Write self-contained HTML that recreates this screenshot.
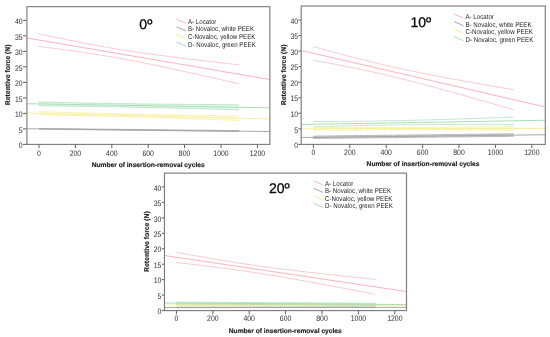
<!DOCTYPE html>
<html><head><meta charset="utf-8"><title>Retentive force charts</title>
<style>
html,body{margin:0;padding:0;background:#fff;overflow:hidden;}
svg{display:block;font-family:"Liberation Sans",Arial,sans-serif;text-rendering:geometricPrecision;}
</style></head><body>
<svg width="550" height="337" viewBox="0 0 550 337">
<defs><filter id="soft" x="0" y="0" width="100%" height="100%" filterUnits="userSpaceOnUse"><feGaussianBlur stdDeviation="0.35"/></filter></defs>
<rect width="550" height="337" fill="#fff"/>
<g filter="url(#soft)">
<line x1="26.90" y1="38.00" x2="269.85" y2="79.60" stroke="#fbb4bd" stroke-width="1.05" />
<polyline points="39.00,33.71 44.01,34.79 49.01,35.87 54.02,36.94 59.02,38.00 64.03,39.04 69.03,40.07 74.03,41.09 79.04,42.09 84.05,43.07 89.05,44.04 94.05,44.98 99.06,45.90 104.06,46.80 109.07,47.67 114.08,48.52 119.08,49.34 124.08,50.15 129.09,50.93 134.09,51.69 139.10,52.42 144.10,53.15 149.11,53.85 154.11,54.54 159.12,55.21 164.12,55.87 169.13,56.52 174.13,57.16 179.14,57.79 184.14,58.41 189.15,59.02 194.16,59.63 199.16,60.23 204.16,60.83 209.17,61.42 214.18,62.01 219.18,62.59 224.19,63.17 229.19,63.75 234.19,64.32 239.20,64.89" fill="none" stroke="#fbb4bd" stroke-width="0.95" stroke-dasharray="1.4 0.45"/>
<polyline points="39.00,46.44 44.01,47.06 49.01,47.70 54.02,48.35 59.02,49.00 64.03,49.67 69.03,50.35 74.03,51.05 79.04,51.76 84.05,52.50 89.05,53.25 94.05,54.02 99.06,54.81 104.06,55.63 109.07,56.47 114.08,57.33 119.08,58.22 124.08,59.13 129.09,60.07 134.09,61.02 139.10,62.00 144.10,62.99 149.11,64.00 154.11,65.03 159.12,66.07 164.12,67.12 169.13,68.19 174.13,69.26 179.14,70.35 184.14,71.44 189.15,72.54 194.16,73.65 199.16,74.76 204.16,75.88 209.17,77.00 214.18,78.12 219.18,79.26 224.19,80.39 229.19,81.53 234.19,82.67 239.20,83.81" fill="none" stroke="#fbb4bd" stroke-width="0.95" stroke-dasharray="1.4 0.45"/>
<polygon points="39.00,101.94 44.01,102.07 49.01,102.20 54.02,102.32 59.02,102.45 64.03,102.57 69.03,102.68 74.03,102.80 79.04,102.90 84.05,103.01 89.05,103.11 94.05,103.21 99.06,103.31 104.06,103.40 109.07,103.49 114.08,103.57 119.08,103.65 124.08,103.72 129.09,103.80 134.09,103.86 139.10,103.93 144.10,103.99 149.11,104.04 154.11,104.10 159.12,104.15 164.12,104.20 169.13,104.24 174.13,104.28 179.14,104.32 184.14,104.36 189.15,104.40 194.16,104.43 199.16,104.46 204.16,104.49 209.17,104.52 214.18,104.55 219.18,104.58 224.19,104.60 229.19,104.62 234.19,104.65 239.20,104.67 239.20,109.90 234.19,109.75 229.19,109.60 224.19,109.46 219.18,109.31 214.18,109.17 209.17,109.03 204.16,108.89 199.16,108.75 194.16,108.61 189.15,108.48 184.14,108.35 179.14,108.21 174.13,108.09 169.13,107.96 164.12,107.84 159.12,107.71 154.11,107.60 149.11,107.48 144.10,107.37 139.10,107.26 134.09,107.15 129.09,107.05 124.08,106.96 119.08,106.86 114.08,106.77 109.07,106.69 104.06,106.61 99.06,106.53 94.05,106.45 89.05,106.38 84.05,106.32 79.04,106.25 74.03,106.20 69.03,106.14 64.03,106.09 59.02,106.04 54.02,105.99 49.01,105.95 44.01,105.91 39.00,105.87" fill="#a9deb7" fill-opacity="0.28" stroke="none"/>
<line x1="26.90" y1="103.70" x2="269.85" y2="107.80" stroke="#a9deb7" stroke-width="1.05" />
<polyline points="39.00,101.94 44.01,102.07 49.01,102.20 54.02,102.32 59.02,102.45 64.03,102.57 69.03,102.68 74.03,102.80 79.04,102.90 84.05,103.01 89.05,103.11 94.05,103.21 99.06,103.31 104.06,103.40 109.07,103.49 114.08,103.57 119.08,103.65 124.08,103.72 129.09,103.80 134.09,103.86 139.10,103.93 144.10,103.99 149.11,104.04 154.11,104.10 159.12,104.15 164.12,104.20 169.13,104.24 174.13,104.28 179.14,104.32 184.14,104.36 189.15,104.40 194.16,104.43 199.16,104.46 204.16,104.49 209.17,104.52 214.18,104.55 219.18,104.58 224.19,104.60 229.19,104.62 234.19,104.65 239.20,104.67" fill="none" stroke="#a9deb7" stroke-width="0.95" stroke-dasharray="1.4 0.45"/>
<polyline points="39.00,105.87 44.01,105.91 49.01,105.95 54.02,105.99 59.02,106.04 64.03,106.09 69.03,106.14 74.03,106.20 79.04,106.25 84.05,106.32 89.05,106.38 94.05,106.45 99.06,106.53 104.06,106.61 109.07,106.69 114.08,106.77 119.08,106.86 124.08,106.96 129.09,107.05 134.09,107.15 139.10,107.26 144.10,107.37 149.11,107.48 154.11,107.60 159.12,107.71 164.12,107.84 169.13,107.96 174.13,108.09 179.14,108.21 184.14,108.35 189.15,108.48 194.16,108.61 199.16,108.75 204.16,108.89 209.17,109.03 214.18,109.17 219.18,109.31 224.19,109.46 229.19,109.60 234.19,109.75 239.20,109.90" fill="none" stroke="#a9deb7" stroke-width="0.95" stroke-dasharray="1.4 0.45"/>
<polygon points="39.00,111.49 44.01,111.65 49.01,111.82 54.02,111.98 59.02,112.14 64.03,112.29 69.03,112.44 74.03,112.60 79.04,112.74 84.05,112.89 89.05,113.03 94.05,113.17 99.06,113.30 104.06,113.43 109.07,113.56 114.08,113.69 119.08,113.81 124.08,113.93 129.09,114.04 134.09,114.15 139.10,114.26 144.10,114.36 149.11,114.47 154.11,114.56 159.12,114.66 164.12,114.75 169.13,114.84 174.13,114.93 179.14,115.02 184.14,115.11 189.15,115.19 194.16,115.27 199.16,115.35 204.16,115.43 209.17,115.50 214.18,115.58 219.18,115.66 224.19,115.73 229.19,115.80 234.19,115.87 239.20,115.94 239.20,120.52 234.19,120.34 229.19,120.16 224.19,119.98 219.18,119.80 214.18,119.62 209.17,119.45 204.16,119.27 199.16,119.10 194.16,118.93 189.15,118.76 184.14,118.59 179.14,118.42 174.13,118.26 169.13,118.10 164.12,117.94 159.12,117.78 154.11,117.62 149.11,117.47 144.10,117.32 139.10,117.18 134.09,117.03 129.09,116.89 124.08,116.75 119.08,116.62 114.08,116.49 109.07,116.36 104.06,116.24 99.06,116.12 94.05,116.00 89.05,115.89 84.05,115.78 79.04,115.67 74.03,115.57 69.03,115.47 64.03,115.37 59.02,115.28 54.02,115.19 49.01,115.09 44.01,115.01 39.00,114.92" fill="#f8ef9e" fill-opacity="0.3" stroke="none"/>
<line x1="26.90" y1="112.90" x2="269.85" y2="119.00" stroke="#f8ef9e" stroke-width="1.05" />
<polyline points="39.00,111.49 44.01,111.65 49.01,111.82 54.02,111.98 59.02,112.14 64.03,112.29 69.03,112.44 74.03,112.60 79.04,112.74 84.05,112.89 89.05,113.03 94.05,113.17 99.06,113.30 104.06,113.43 109.07,113.56 114.08,113.69 119.08,113.81 124.08,113.93 129.09,114.04 134.09,114.15 139.10,114.26 144.10,114.36 149.11,114.47 154.11,114.56 159.12,114.66 164.12,114.75 169.13,114.84 174.13,114.93 179.14,115.02 184.14,115.11 189.15,115.19 194.16,115.27 199.16,115.35 204.16,115.43 209.17,115.50 214.18,115.58 219.18,115.66 224.19,115.73 229.19,115.80 234.19,115.87 239.20,115.94" fill="none" stroke="#f8ef9e" stroke-width="0.95" stroke-dasharray="1.4 0.45"/>
<polyline points="39.00,114.92 44.01,115.01 49.01,115.09 54.02,115.19 59.02,115.28 64.03,115.37 69.03,115.47 74.03,115.57 79.04,115.67 84.05,115.78 89.05,115.89 94.05,116.00 99.06,116.12 104.06,116.24 109.07,116.36 114.08,116.49 119.08,116.62 124.08,116.75 129.09,116.89 134.09,117.03 139.10,117.18 144.10,117.32 149.11,117.47 154.11,117.62 159.12,117.78 164.12,117.94 169.13,118.10 174.13,118.26 179.14,118.42 184.14,118.59 189.15,118.76 194.16,118.93 199.16,119.10 204.16,119.27 209.17,119.45 214.18,119.62 219.18,119.80 224.19,119.98 229.19,120.16 234.19,120.34 239.20,120.52" fill="none" stroke="#f8ef9e" stroke-width="0.95" stroke-dasharray="1.4 0.45"/>
<polygon points="39.00,128.41 44.01,128.47 49.01,128.53 54.02,128.59 59.02,128.64 64.03,128.70 69.03,128.76 74.03,128.82 79.04,128.87 84.05,128.93 89.05,128.99 94.05,129.05 99.06,129.10 104.06,129.16 109.07,129.21 114.08,129.27 119.08,129.32 124.08,129.38 129.09,129.43 134.09,129.49 139.10,129.54 144.10,129.60 149.11,129.65 154.11,129.70 159.12,129.76 164.12,129.81 169.13,129.86 174.13,129.92 179.14,129.97 184.14,130.02 189.15,130.07 194.16,130.12 199.16,130.18 204.16,130.23 209.17,130.28 214.18,130.33 219.18,130.38 224.19,130.43 229.19,130.48 234.19,130.53 239.20,130.58 239.20,131.54 234.19,131.47 229.19,131.41 224.19,131.35 219.18,131.29 214.18,131.23 209.17,131.17 204.16,131.11 199.16,131.05 194.16,130.99 189.15,130.93 184.14,130.87 179.14,130.82 174.13,130.76 169.13,130.70 164.12,130.64 159.12,130.58 154.11,130.52 149.11,130.47 144.10,130.41 139.10,130.35 134.09,130.29 129.09,130.24 124.08,130.18 119.08,130.12 114.08,130.07 109.07,130.01 104.06,129.96 99.06,129.90 94.05,129.85 89.05,129.79 84.05,129.74 79.04,129.68 74.03,129.63 69.03,129.58 64.03,129.52 59.02,129.47 54.02,129.42 49.01,129.36 44.01,129.31 39.00,129.26" fill="#a6a6a6" fill-opacity="0.6" stroke="none"/>
<line x1="26.90" y1="128.70" x2="269.85" y2="131.40" stroke="#a6a6a6" stroke-width="1.05" />
<polyline points="39.00,128.41 44.01,128.47 49.01,128.53 54.02,128.59 59.02,128.64 64.03,128.70 69.03,128.76 74.03,128.82 79.04,128.87 84.05,128.93 89.05,128.99 94.05,129.05 99.06,129.10 104.06,129.16 109.07,129.21 114.08,129.27 119.08,129.32 124.08,129.38 129.09,129.43 134.09,129.49 139.10,129.54 144.10,129.60 149.11,129.65 154.11,129.70 159.12,129.76 164.12,129.81 169.13,129.86 174.13,129.92 179.14,129.97 184.14,130.02 189.15,130.07 194.16,130.12 199.16,130.18 204.16,130.23 209.17,130.28 214.18,130.33 219.18,130.38 224.19,130.43 229.19,130.48 234.19,130.53 239.20,130.58" fill="none" stroke="#a6a6a6" stroke-width="0.95" stroke-dasharray="1.4 0.45"/>
<polyline points="39.00,129.26 44.01,129.31 49.01,129.36 54.02,129.42 59.02,129.47 64.03,129.52 69.03,129.58 74.03,129.63 79.04,129.68 84.05,129.74 89.05,129.79 94.05,129.85 99.06,129.90 104.06,129.96 109.07,130.01 114.08,130.07 119.08,130.12 124.08,130.18 129.09,130.24 134.09,130.29 139.10,130.35 144.10,130.41 149.11,130.47 154.11,130.52 159.12,130.58 164.12,130.64 169.13,130.70 174.13,130.76 179.14,130.82 184.14,130.87 189.15,130.93 194.16,130.99 199.16,131.05 204.16,131.11 209.17,131.17 214.18,131.23 219.18,131.29 224.19,131.35 229.19,131.41 234.19,131.47 239.20,131.54" fill="none" stroke="#a6a6a6" stroke-width="0.95" stroke-dasharray="1.4 0.45"/>
<rect x="26.90" y="6.65" width="242.95" height="137.75" fill="none" stroke="#7c7c7c" stroke-width="1.15"/>
<line x1="23.00" y1="144.40" x2="26.50" y2="144.40" stroke="#4a4a4a" stroke-width="0.9" />
<text transform="translate(22.70,148.10) scale(0.86,1)" font-size="8.0" text-anchor="end" font-weight="normal" fill="#2e2e2e" >0</text>
<line x1="23.00" y1="128.90" x2="26.50" y2="128.90" stroke="#4a4a4a" stroke-width="0.9" />
<text transform="translate(22.70,132.60) scale(0.86,1)" font-size="8.0" text-anchor="end" font-weight="normal" fill="#2e2e2e" >5</text>
<line x1="23.00" y1="113.40" x2="26.50" y2="113.40" stroke="#4a4a4a" stroke-width="0.9" />
<text transform="translate(22.70,117.10) scale(0.86,1)" font-size="8.0" text-anchor="end" font-weight="normal" fill="#2e2e2e" >10</text>
<line x1="23.00" y1="97.90" x2="26.50" y2="97.90" stroke="#4a4a4a" stroke-width="0.9" />
<text transform="translate(22.70,101.60) scale(0.86,1)" font-size="8.0" text-anchor="end" font-weight="normal" fill="#2e2e2e" >15</text>
<line x1="23.00" y1="82.40" x2="26.50" y2="82.40" stroke="#4a4a4a" stroke-width="0.9" />
<text transform="translate(22.70,86.10) scale(0.86,1)" font-size="8.0" text-anchor="end" font-weight="normal" fill="#2e2e2e" >20</text>
<line x1="23.00" y1="66.90" x2="26.50" y2="66.90" stroke="#4a4a4a" stroke-width="0.9" />
<text transform="translate(22.70,70.60) scale(0.86,1)" font-size="8.0" text-anchor="end" font-weight="normal" fill="#2e2e2e" >25</text>
<line x1="23.00" y1="51.40" x2="26.50" y2="51.40" stroke="#4a4a4a" stroke-width="0.9" />
<text transform="translate(22.70,55.10) scale(0.86,1)" font-size="8.0" text-anchor="end" font-weight="normal" fill="#2e2e2e" >30</text>
<line x1="23.00" y1="35.90" x2="26.50" y2="35.90" stroke="#4a4a4a" stroke-width="0.9" />
<text transform="translate(22.70,39.60) scale(0.86,1)" font-size="8.0" text-anchor="end" font-weight="normal" fill="#2e2e2e" >35</text>
<line x1="23.00" y1="20.40" x2="26.50" y2="20.40" stroke="#4a4a4a" stroke-width="0.9" />
<text transform="translate(22.70,24.10) scale(0.86,1)" font-size="8.0" text-anchor="end" font-weight="normal" fill="#2e2e2e" >40</text>
<line x1="39.00" y1="144.80" x2="39.00" y2="148.10" stroke="#4a4a4a" stroke-width="0.9" />
<text transform="translate(39.00,155.90) scale(0.86,1)" font-size="8.0" text-anchor="middle" font-weight="normal" fill="#2e2e2e" >0</text>
<line x1="75.40" y1="144.80" x2="75.40" y2="148.10" stroke="#4a4a4a" stroke-width="0.9" />
<text transform="translate(75.40,155.90) scale(0.86,1)" font-size="8.0" text-anchor="middle" font-weight="normal" fill="#2e2e2e" >200</text>
<line x1="111.80" y1="144.80" x2="111.80" y2="148.10" stroke="#4a4a4a" stroke-width="0.9" />
<text transform="translate(111.80,155.90) scale(0.86,1)" font-size="8.0" text-anchor="middle" font-weight="normal" fill="#2e2e2e" >400</text>
<line x1="148.20" y1="144.80" x2="148.20" y2="148.10" stroke="#4a4a4a" stroke-width="0.9" />
<text transform="translate(148.20,155.90) scale(0.86,1)" font-size="8.0" text-anchor="middle" font-weight="normal" fill="#2e2e2e" >600</text>
<line x1="184.60" y1="144.80" x2="184.60" y2="148.10" stroke="#4a4a4a" stroke-width="0.9" />
<text transform="translate(184.60,155.90) scale(0.86,1)" font-size="8.0" text-anchor="middle" font-weight="normal" fill="#2e2e2e" >800</text>
<line x1="221.00" y1="144.80" x2="221.00" y2="148.10" stroke="#4a4a4a" stroke-width="0.9" />
<text transform="translate(221.00,155.90) scale(0.86,1)" font-size="8.0" text-anchor="middle" font-weight="normal" fill="#2e2e2e" >1000</text>
<line x1="257.40" y1="144.80" x2="257.40" y2="148.10" stroke="#4a4a4a" stroke-width="0.9" />
<text transform="translate(257.40,155.90) scale(0.86,1)" font-size="8.0" text-anchor="middle" font-weight="normal" fill="#2e2e2e" >1200</text>
<text transform="translate(148.18,167.40)" font-size="6.65" text-anchor="middle" font-weight="bold" fill="#1c1c1c" stroke="#1c1c1c" stroke-width="0.15">Number of insertion-removal cycles</text>
<text transform="translate(9.90,74.83) rotate(-90) scale(0.975,1)" font-size="7.0" text-anchor="middle" font-weight="bold" fill="#1c1c1c" stroke="#1c1c1c" stroke-width="0.15">Retentive force (N)</text>
<text transform="translate(139.35,29.10)" font-size="14.0" text-anchor="start" font-weight="normal" fill="#000" stroke="#000" stroke-width="0.25">0º</text>
<line x1="176.40" y1="19.10" x2="186.00" y2="23.30" stroke="#fbb4bd" stroke-width="1.0" />
<text transform="translate(188.00,23.80) scale(0.88,1)" font-size="7.0" text-anchor="start" font-weight="normal" fill="#1e1e1e" >A- Locator</text>
<line x1="176.40" y1="26.73" x2="186.00" y2="30.93" stroke="#a6a6a6" stroke-width="1.0" />
<text transform="translate(188.00,31.43) scale(0.88,1)" font-size="7.0" text-anchor="start" font-weight="normal" fill="#1e1e1e" >B- Novaloc, white PEEK</text>
<line x1="176.40" y1="34.36" x2="186.00" y2="38.56" stroke="#f8ef9e" stroke-width="1.0" />
<text transform="translate(188.00,39.06) scale(0.88,1)" font-size="7.0" text-anchor="start" font-weight="normal" fill="#1e1e1e" >C-Novaloc, yellow PEEK</text>
<line x1="176.40" y1="41.99" x2="186.00" y2="46.19" stroke="#a9deb7" stroke-width="1.0" />
<text transform="translate(188.00,46.69) scale(0.88,1)" font-size="7.0" text-anchor="start" font-weight="normal" fill="#1e1e1e" >D- Novaloc, green PEEK</text>
<line x1="301.20" y1="50.60" x2="545.30" y2="107.10" stroke="#fbb4bd" stroke-width="1.05" />
<polyline points="313.40,46.62 318.41,48.01 323.42,49.40 328.44,50.78 333.45,52.14 338.46,53.50 343.47,54.84 348.49,56.16 353.50,57.47 358.51,58.75 363.52,60.02 368.54,61.27 373.55,62.49 378.56,63.69 383.57,64.87 388.59,66.02 393.60,67.15 398.61,68.25 403.62,69.33 408.64,70.39 413.65,71.43 418.66,72.45 423.67,73.46 428.69,74.44 433.70,75.41 438.71,76.37 443.72,77.32 448.74,78.25 453.75,79.18 458.76,80.10 463.77,81.01 468.79,81.91 473.80,82.80 478.81,83.69 483.82,84.58 488.84,85.46 493.85,86.34 498.86,87.21 503.88,88.08 508.89,88.94 513.90,89.80" fill="none" stroke="#fbb4bd" stroke-width="0.95" stroke-dasharray="1.4 0.45"/>
<polyline points="313.40,60.23 318.41,61.15 323.42,62.09 328.44,63.03 333.45,63.98 338.46,64.95 343.47,65.93 348.49,66.93 353.50,67.95 358.51,68.98 363.52,70.03 368.54,71.11 373.55,72.20 378.56,73.32 383.57,74.47 388.59,75.64 393.60,76.83 398.61,78.04 403.62,79.28 408.64,80.54 413.65,81.82 418.66,83.12 423.67,84.44 428.69,85.78 433.70,87.12 438.71,88.49 443.72,89.86 448.74,91.24 453.75,92.64 458.76,94.04 463.77,95.45 468.79,96.87 473.80,98.30 478.81,99.73 483.82,101.16 488.84,102.60 493.85,104.05 498.86,105.50 503.88,106.95 508.89,108.40 513.90,109.86" fill="none" stroke="#fbb4bd" stroke-width="0.95" stroke-dasharray="1.4 0.45"/>
<line x1="301.20" y1="124.40" x2="545.30" y2="120.20" stroke="#a9deb7" stroke-width="1.05" />
<polyline points="313.40,121.54 318.41,121.52 323.42,121.50 328.44,121.48 333.45,121.45 338.46,121.41 343.47,121.38 348.49,121.33 353.50,121.29 358.51,121.23 363.52,121.17 368.54,121.11 373.55,121.04 378.56,120.96 383.57,120.88 388.59,120.79 393.60,120.70 398.61,120.60 403.62,120.49 408.64,120.38 413.65,120.26 418.66,120.14 423.67,120.01 428.69,119.88 433.70,119.74 438.71,119.60 443.72,119.45 448.74,119.30 453.75,119.15 458.76,118.99 463.77,118.84 468.79,118.67 473.80,118.51 478.81,118.34 483.82,118.17 488.84,118.00 493.85,117.83 498.86,117.66 503.88,117.48 508.89,117.31 513.90,117.13" fill="none" stroke="#a9deb7" stroke-width="0.95" stroke-dasharray="1.4 0.45"/>
<polyline points="313.40,126.84 318.41,126.68 323.42,126.53 328.44,126.39 333.45,126.24 338.46,126.10 343.47,125.97 348.49,125.84 353.50,125.71 358.51,125.59 363.52,125.48 368.54,125.37 373.55,125.27 378.56,125.17 383.57,125.08 388.59,125.00 393.60,124.92 398.61,124.85 403.62,124.78 408.64,124.72 413.65,124.67 418.66,124.62 423.67,124.57 428.69,124.53 433.70,124.50 438.71,124.47 443.72,124.44 448.74,124.42 453.75,124.40 458.76,124.38 463.77,124.37 468.79,124.36 473.80,124.35 478.81,124.34 483.82,124.34 488.84,124.34 493.85,124.34 498.86,124.34 503.88,124.34 508.89,124.35 513.90,124.35" fill="none" stroke="#a9deb7" stroke-width="0.95" stroke-dasharray="1.4 0.45"/>
<polygon points="313.40,127.26 318.41,127.29 323.42,127.31 328.44,127.34 333.45,127.36 338.46,127.38 343.47,127.39 348.49,127.41 353.50,127.42 358.51,127.43 363.52,127.43 368.54,127.44 373.55,127.44 378.56,127.44 383.57,127.43 388.59,127.42 393.60,127.41 398.61,127.40 403.62,127.38 408.64,127.36 413.65,127.34 418.66,127.31 423.67,127.29 428.69,127.25 433.70,127.22 438.71,127.19 443.72,127.15 448.74,127.11 453.75,127.07 458.76,127.03 463.77,126.98 468.79,126.94 473.80,126.89 478.81,126.85 483.82,126.80 488.84,126.75 493.85,126.69 498.86,126.64 503.88,126.59 508.89,126.54 513.90,126.48 513.90,130.41 508.89,130.37 503.88,130.33 498.86,130.29 493.85,130.25 488.84,130.22 483.82,130.18 478.81,130.15 473.80,130.11 468.79,130.08 463.77,130.05 458.76,130.02 453.75,129.99 448.74,129.97 443.72,129.94 438.71,129.92 433.70,129.90 428.69,129.88 423.67,129.86 418.66,129.85 413.65,129.84 408.64,129.83 403.62,129.83 398.61,129.82 393.60,129.82 388.59,129.83 383.57,129.83 378.56,129.84 373.55,129.85 368.54,129.87 363.52,129.89 358.51,129.91 353.50,129.93 348.49,129.96 343.47,129.99 338.46,130.02 333.45,130.05 328.44,130.09 323.42,130.12 318.41,130.16 313.40,130.20" fill="#f8ef9e" fill-opacity="0.3" stroke="none"/>
<line x1="301.20" y1="128.75" x2="545.30" y2="128.40" stroke="#f8ef9e" stroke-width="1.05" />
<polyline points="313.40,127.26 318.41,127.29 323.42,127.31 328.44,127.34 333.45,127.36 338.46,127.38 343.47,127.39 348.49,127.41 353.50,127.42 358.51,127.43 363.52,127.43 368.54,127.44 373.55,127.44 378.56,127.44 383.57,127.43 388.59,127.42 393.60,127.41 398.61,127.40 403.62,127.38 408.64,127.36 413.65,127.34 418.66,127.31 423.67,127.29 428.69,127.25 433.70,127.22 438.71,127.19 443.72,127.15 448.74,127.11 453.75,127.07 458.76,127.03 463.77,126.98 468.79,126.94 473.80,126.89 478.81,126.85 483.82,126.80 488.84,126.75 493.85,126.69 498.86,126.64 503.88,126.59 508.89,126.54 513.90,126.48" fill="none" stroke="#f8ef9e" stroke-width="0.95" stroke-dasharray="1.4 0.45"/>
<polyline points="313.40,130.20 318.41,130.16 323.42,130.12 328.44,130.09 333.45,130.05 338.46,130.02 343.47,129.99 348.49,129.96 353.50,129.93 358.51,129.91 363.52,129.89 368.54,129.87 373.55,129.85 378.56,129.84 383.57,129.83 388.59,129.83 393.60,129.82 398.61,129.82 403.62,129.83 408.64,129.83 413.65,129.84 418.66,129.85 423.67,129.86 428.69,129.88 433.70,129.90 438.71,129.92 443.72,129.94 448.74,129.97 453.75,129.99 458.76,130.02 463.77,130.05 468.79,130.08 473.80,130.11 478.81,130.15 483.82,130.18 488.84,130.22 493.85,130.25 498.86,130.29 503.88,130.33 508.89,130.37 513.90,130.41" fill="none" stroke="#f8ef9e" stroke-width="0.95" stroke-dasharray="1.4 0.45"/>
<polygon points="313.40,136.05 318.41,135.99 323.42,135.94 328.44,135.89 333.45,135.83 338.46,135.78 343.47,135.73 348.49,135.67 353.50,135.62 358.51,135.56 363.52,135.51 368.54,135.45 373.55,135.40 378.56,135.34 383.57,135.29 388.59,135.23 393.60,135.18 398.61,135.12 403.62,135.07 408.64,135.01 413.65,134.95 418.66,134.90 423.67,134.84 428.69,134.78 433.70,134.73 438.71,134.67 443.72,134.61 448.74,134.55 453.75,134.49 458.76,134.44 463.77,134.38 468.79,134.32 473.80,134.26 478.81,134.20 483.82,134.14 488.84,134.08 493.85,134.02 498.86,133.97 503.88,133.91 508.89,133.85 513.90,133.79 513.90,136.31 508.89,136.36 503.88,136.41 498.86,136.46 493.85,136.51 488.84,136.56 483.82,136.62 478.81,136.67 473.80,136.72 468.79,136.77 463.77,136.83 458.76,136.88 453.75,136.93 448.74,136.98 443.72,137.04 438.71,137.09 433.70,137.14 428.69,137.20 423.67,137.25 418.66,137.31 413.65,137.36 408.64,137.41 403.62,137.47 398.61,137.52 393.60,137.58 388.59,137.63 383.57,137.69 378.56,137.74 373.55,137.80 368.54,137.86 363.52,137.91 358.51,137.97 353.50,138.03 348.49,138.08 343.47,138.14 338.46,138.20 333.45,138.25 328.44,138.31 323.42,138.37 318.41,138.43 313.40,138.48" fill="#a6a6a6" fill-opacity="0.5" stroke="none"/>
<line x1="301.20" y1="137.40" x2="545.30" y2="134.70" stroke="#a6a6a6" stroke-width="1.05" />
<polyline points="313.40,136.05 318.41,135.99 323.42,135.94 328.44,135.89 333.45,135.83 338.46,135.78 343.47,135.73 348.49,135.67 353.50,135.62 358.51,135.56 363.52,135.51 368.54,135.45 373.55,135.40 378.56,135.34 383.57,135.29 388.59,135.23 393.60,135.18 398.61,135.12 403.62,135.07 408.64,135.01 413.65,134.95 418.66,134.90 423.67,134.84 428.69,134.78 433.70,134.73 438.71,134.67 443.72,134.61 448.74,134.55 453.75,134.49 458.76,134.44 463.77,134.38 468.79,134.32 473.80,134.26 478.81,134.20 483.82,134.14 488.84,134.08 493.85,134.02 498.86,133.97 503.88,133.91 508.89,133.85 513.90,133.79" fill="none" stroke="#a6a6a6" stroke-width="0.95" stroke-dasharray="1.4 0.45"/>
<polyline points="313.40,138.48 318.41,138.43 323.42,138.37 328.44,138.31 333.45,138.25 338.46,138.20 343.47,138.14 348.49,138.08 353.50,138.03 358.51,137.97 363.52,137.91 368.54,137.86 373.55,137.80 378.56,137.74 383.57,137.69 388.59,137.63 393.60,137.58 398.61,137.52 403.62,137.47 408.64,137.41 413.65,137.36 418.66,137.31 423.67,137.25 428.69,137.20 433.70,137.14 438.71,137.09 443.72,137.04 448.74,136.98 453.75,136.93 458.76,136.88 463.77,136.83 468.79,136.77 473.80,136.72 478.81,136.67 483.82,136.62 488.84,136.56 493.85,136.51 498.86,136.46 503.88,136.41 508.89,136.36 513.90,136.31" fill="none" stroke="#a6a6a6" stroke-width="0.95" stroke-dasharray="1.4 0.45"/>
<rect x="301.20" y="6.00" width="244.10" height="138.40" fill="none" stroke="#7c7c7c" stroke-width="1.15"/>
<line x1="298.40" y1="144.40" x2="300.80" y2="144.40" stroke="#4a4a4a" stroke-width="0.9" />
<text transform="translate(298.10,148.10) scale(0.86,1)" font-size="8.0" text-anchor="end" font-weight="normal" fill="#2e2e2e" >0</text>
<line x1="298.40" y1="128.85" x2="300.80" y2="128.85" stroke="#4a4a4a" stroke-width="0.9" />
<text transform="translate(298.10,132.55) scale(0.86,1)" font-size="8.0" text-anchor="end" font-weight="normal" fill="#2e2e2e" >5</text>
<line x1="298.40" y1="113.30" x2="300.80" y2="113.30" stroke="#4a4a4a" stroke-width="0.9" />
<text transform="translate(298.10,117.00) scale(0.86,1)" font-size="8.0" text-anchor="end" font-weight="normal" fill="#2e2e2e" >10</text>
<line x1="298.40" y1="97.75" x2="300.80" y2="97.75" stroke="#4a4a4a" stroke-width="0.9" />
<text transform="translate(298.10,101.45) scale(0.86,1)" font-size="8.0" text-anchor="end" font-weight="normal" fill="#2e2e2e" >15</text>
<line x1="298.40" y1="82.20" x2="300.80" y2="82.20" stroke="#4a4a4a" stroke-width="0.9" />
<text transform="translate(298.10,85.90) scale(0.86,1)" font-size="8.0" text-anchor="end" font-weight="normal" fill="#2e2e2e" >20</text>
<line x1="298.40" y1="66.65" x2="300.80" y2="66.65" stroke="#4a4a4a" stroke-width="0.9" />
<text transform="translate(298.10,70.35) scale(0.86,1)" font-size="8.0" text-anchor="end" font-weight="normal" fill="#2e2e2e" >25</text>
<line x1="298.40" y1="51.10" x2="300.80" y2="51.10" stroke="#4a4a4a" stroke-width="0.9" />
<text transform="translate(298.10,54.80) scale(0.86,1)" font-size="8.0" text-anchor="end" font-weight="normal" fill="#2e2e2e" >30</text>
<line x1="298.40" y1="35.55" x2="300.80" y2="35.55" stroke="#4a4a4a" stroke-width="0.9" />
<text transform="translate(298.10,39.25) scale(0.86,1)" font-size="8.0" text-anchor="end" font-weight="normal" fill="#2e2e2e" >35</text>
<line x1="298.40" y1="20.00" x2="300.80" y2="20.00" stroke="#4a4a4a" stroke-width="0.9" />
<text transform="translate(298.10,23.70) scale(0.86,1)" font-size="8.0" text-anchor="end" font-weight="normal" fill="#2e2e2e" >40</text>
<line x1="313.40" y1="144.80" x2="313.40" y2="148.10" stroke="#4a4a4a" stroke-width="0.9" />
<text transform="translate(313.40,155.00) scale(0.86,1)" font-size="8.0" text-anchor="middle" font-weight="normal" fill="#2e2e2e" >0</text>
<line x1="349.80" y1="144.80" x2="349.80" y2="148.10" stroke="#4a4a4a" stroke-width="0.9" />
<text transform="translate(349.80,155.00) scale(0.86,1)" font-size="8.0" text-anchor="middle" font-weight="normal" fill="#2e2e2e" >200</text>
<line x1="386.20" y1="144.80" x2="386.20" y2="148.10" stroke="#4a4a4a" stroke-width="0.9" />
<text transform="translate(386.20,155.00) scale(0.86,1)" font-size="8.0" text-anchor="middle" font-weight="normal" fill="#2e2e2e" >400</text>
<line x1="422.60" y1="144.80" x2="422.60" y2="148.10" stroke="#4a4a4a" stroke-width="0.9" />
<text transform="translate(422.60,155.00) scale(0.86,1)" font-size="8.0" text-anchor="middle" font-weight="normal" fill="#2e2e2e" >600</text>
<line x1="459.00" y1="144.80" x2="459.00" y2="148.10" stroke="#4a4a4a" stroke-width="0.9" />
<text transform="translate(459.00,155.00) scale(0.86,1)" font-size="8.0" text-anchor="middle" font-weight="normal" fill="#2e2e2e" >800</text>
<line x1="495.40" y1="144.80" x2="495.40" y2="148.10" stroke="#4a4a4a" stroke-width="0.9" />
<text transform="translate(495.40,155.00) scale(0.86,1)" font-size="8.0" text-anchor="middle" font-weight="normal" fill="#2e2e2e" >1000</text>
<line x1="531.80" y1="144.80" x2="531.80" y2="148.10" stroke="#4a4a4a" stroke-width="0.9" />
<text transform="translate(531.80,155.00) scale(0.86,1)" font-size="8.0" text-anchor="middle" font-weight="normal" fill="#2e2e2e" >1200</text>
<text transform="translate(423.05,165.60)" font-size="6.65" text-anchor="middle" font-weight="bold" fill="#1c1c1c" stroke="#1c1c1c" stroke-width="0.15">Number of insertion-removal cycles</text>
<text transform="translate(285.80,74.80) rotate(-90) scale(0.975,1)" font-size="7.0" text-anchor="middle" font-weight="bold" fill="#1c1c1c" stroke="#1c1c1c" stroke-width="0.15">Retentive force (N)</text>
<text transform="translate(410.45,27.30)" font-size="14.0" text-anchor="start" font-weight="normal" fill="#000" stroke="#000" stroke-width="0.25">10º</text>
<line x1="453.90" y1="14.00" x2="463.50" y2="18.20" stroke="#fbb4bd" stroke-width="1.0" />
<text transform="translate(465.50,19.20) scale(0.88,1)" font-size="7.0" text-anchor="start" font-weight="normal" fill="#1e1e1e" >A- Locator</text>
<line x1="453.90" y1="21.53" x2="463.50" y2="25.73" stroke="#a6a6a6" stroke-width="1.0" />
<text transform="translate(465.50,26.73) scale(0.88,1)" font-size="7.0" text-anchor="start" font-weight="normal" fill="#1e1e1e" >B- Novaloc, white PEEK</text>
<line x1="453.90" y1="29.06" x2="463.50" y2="33.26" stroke="#f8ef9e" stroke-width="1.0" />
<text transform="translate(465.50,34.26) scale(0.88,1)" font-size="7.0" text-anchor="start" font-weight="normal" fill="#1e1e1e" >C-Novaloc, yellow PEEK</text>
<line x1="453.90" y1="36.59" x2="463.50" y2="40.79" stroke="#a9deb7" stroke-width="1.0" />
<text transform="translate(465.50,41.79) scale(0.88,1)" font-size="7.0" text-anchor="start" font-weight="normal" fill="#1e1e1e" >D- Novaloc, green PEEK</text>
<line x1="164.45" y1="255.60" x2="406.50" y2="291.50" stroke="#fbb4bd" stroke-width="1.05" />
<polyline points="176.40,252.28 181.38,253.20 186.36,254.10 191.34,255.00 196.32,255.89 201.30,256.77 206.28,257.64 211.26,258.50 216.24,259.35 221.22,260.18 226.20,261.00 231.18,261.80 236.16,262.59 241.14,263.36 246.12,264.11 251.10,264.85 256.08,265.56 261.06,266.26 266.04,266.95 271.02,267.61 276.00,268.26 280.98,268.90 285.96,269.53 290.94,270.14 295.92,270.74 300.90,271.33 305.88,271.91 310.86,272.49 315.84,273.05 320.82,273.61 325.80,274.17 330.78,274.72 335.76,275.26 340.74,275.80 345.72,276.34 350.70,276.87 355.68,277.40 360.66,277.92 365.64,278.45 370.62,278.97 375.60,279.49" fill="none" stroke="#fbb4bd" stroke-width="0.95" stroke-dasharray="1.4 0.45"/>
<polyline points="176.40,262.46 181.38,263.03 186.36,263.60 191.34,264.17 196.32,264.76 201.30,265.36 206.28,265.96 211.26,266.58 216.24,267.21 221.22,267.86 226.20,268.52 231.18,269.19 236.16,269.88 241.14,270.59 246.12,271.31 251.10,272.06 256.08,272.82 261.06,273.59 266.04,274.39 271.02,275.20 276.00,276.03 280.98,276.87 285.96,277.72 290.94,278.58 295.92,279.46 300.90,280.35 305.88,281.24 310.86,282.14 315.84,283.05 320.82,283.97 325.80,284.89 330.78,285.82 335.76,286.76 340.74,287.69 345.72,288.63 350.70,289.58 355.68,290.53 360.66,291.48 365.64,292.43 370.62,293.39 375.60,294.35" fill="none" stroke="#fbb4bd" stroke-width="0.95" stroke-dasharray="1.4 0.45"/>
<polygon points="176.40,304.53 181.38,304.54 186.36,304.54 191.34,304.55 196.32,304.55 201.30,304.56 206.28,304.56 211.26,304.56 216.24,304.57 221.22,304.57 226.20,304.57 231.18,304.58 236.16,304.58 241.14,304.58 246.12,304.58 251.10,304.59 256.08,304.59 261.06,304.59 266.04,304.59 271.02,304.59 276.00,304.59 280.98,304.59 285.96,304.59 290.94,304.59 295.92,304.59 300.90,304.59 305.88,304.59 310.86,304.59 315.84,304.59 320.82,304.59 325.80,304.59 330.78,304.59 335.76,304.59 340.74,304.59 345.72,304.58 350.70,304.58 355.68,304.58 360.66,304.58 365.64,304.57 370.62,304.57 375.60,304.57 375.60,305.61 370.62,305.60 365.64,305.59 360.66,305.58 355.68,305.58 350.70,305.57 345.72,305.57 340.74,305.56 335.76,305.55 330.78,305.55 325.80,305.54 320.82,305.54 315.84,305.53 310.86,305.53 305.88,305.52 300.90,305.52 295.92,305.51 290.94,305.51 285.96,305.51 280.98,305.50 276.00,305.50 271.02,305.50 266.04,305.49 261.06,305.49 256.08,305.49 251.10,305.49 246.12,305.48 241.14,305.48 236.16,305.48 231.18,305.48 226.20,305.48 221.22,305.48 216.24,305.48 211.26,305.48 206.28,305.47 201.30,305.47 196.32,305.47 191.34,305.47 186.36,305.48 181.38,305.48 176.40,305.48" fill="#f8ef9e" fill-opacity="0.55" stroke="none"/>
<line x1="164.45" y1="305.00" x2="406.50" y2="305.10" stroke="#f8ef9e" stroke-width="1.05" />
<polyline points="176.40,304.53 181.38,304.54 186.36,304.54 191.34,304.55 196.32,304.55 201.30,304.56 206.28,304.56 211.26,304.56 216.24,304.57 221.22,304.57 226.20,304.57 231.18,304.58 236.16,304.58 241.14,304.58 246.12,304.58 251.10,304.59 256.08,304.59 261.06,304.59 266.04,304.59 271.02,304.59 276.00,304.59 280.98,304.59 285.96,304.59 290.94,304.59 295.92,304.59 300.90,304.59 305.88,304.59 310.86,304.59 315.84,304.59 320.82,304.59 325.80,304.59 330.78,304.59 335.76,304.59 340.74,304.59 345.72,304.58 350.70,304.58 355.68,304.58 360.66,304.58 365.64,304.57 370.62,304.57 375.60,304.57" fill="none" stroke="#f8ef9e" stroke-width="0.95" stroke-dasharray="1.4 0.45"/>
<polyline points="176.40,305.48 181.38,305.48 186.36,305.48 191.34,305.47 196.32,305.47 201.30,305.47 206.28,305.47 211.26,305.48 216.24,305.48 221.22,305.48 226.20,305.48 231.18,305.48 236.16,305.48 241.14,305.48 246.12,305.48 251.10,305.49 256.08,305.49 261.06,305.49 266.04,305.49 271.02,305.50 276.00,305.50 280.98,305.50 285.96,305.51 290.94,305.51 295.92,305.51 300.90,305.52 305.88,305.52 310.86,305.53 315.84,305.53 320.82,305.54 325.80,305.54 330.78,305.55 335.76,305.55 340.74,305.56 345.72,305.57 350.70,305.57 355.68,305.58 360.66,305.58 365.64,305.59 370.62,305.60 375.60,305.61" fill="none" stroke="#f8ef9e" stroke-width="0.95" stroke-dasharray="1.4 0.45"/>
<polygon points="176.40,302.10 181.38,302.13 186.36,302.16 191.34,302.19 196.32,302.22 201.30,302.25 206.28,302.28 211.26,302.31 216.24,302.34 221.22,302.38 226.20,302.41 231.18,302.43 236.16,302.46 241.14,302.49 246.12,302.52 251.10,302.55 256.08,302.58 261.06,302.61 266.04,302.64 271.02,302.66 276.00,302.69 280.98,302.72 285.96,302.75 290.94,302.77 295.92,302.80 300.90,302.83 305.88,302.85 310.86,302.88 315.84,302.90 320.82,302.93 325.80,302.95 330.78,302.98 335.76,303.00 340.74,303.03 345.72,303.05 350.70,303.08 355.68,303.10 360.66,303.13 365.64,303.15 370.62,303.17 375.60,303.20 375.60,305.25 370.62,305.21 365.64,305.18 360.66,305.14 355.68,305.11 350.70,305.08 345.72,305.04 340.74,305.01 335.76,304.98 330.78,304.94 325.80,304.91 320.82,304.88 315.84,304.85 310.86,304.82 305.88,304.78 300.90,304.75 295.92,304.72 290.94,304.69 285.96,304.66 280.98,304.63 276.00,304.60 271.02,304.57 266.04,304.54 261.06,304.51 256.08,304.48 251.10,304.45 246.12,304.42 241.14,304.39 236.16,304.37 231.18,304.34 226.20,304.31 221.22,304.28 216.24,304.25 211.26,304.23 206.28,304.20 201.30,304.17 196.32,304.15 191.34,304.12 186.36,304.09 181.38,304.07 176.40,304.04" fill="#a9deb7" fill-opacity="0.55" stroke="none"/>
<line x1="164.45" y1="303.00" x2="406.50" y2="304.40" stroke="#a9deb7" stroke-width="1.05" />
<polyline points="176.40,302.10 181.38,302.13 186.36,302.16 191.34,302.19 196.32,302.22 201.30,302.25 206.28,302.28 211.26,302.31 216.24,302.34 221.22,302.38 226.20,302.41 231.18,302.43 236.16,302.46 241.14,302.49 246.12,302.52 251.10,302.55 256.08,302.58 261.06,302.61 266.04,302.64 271.02,302.66 276.00,302.69 280.98,302.72 285.96,302.75 290.94,302.77 295.92,302.80 300.90,302.83 305.88,302.85 310.86,302.88 315.84,302.90 320.82,302.93 325.80,302.95 330.78,302.98 335.76,303.00 340.74,303.03 345.72,303.05 350.70,303.08 355.68,303.10 360.66,303.13 365.64,303.15 370.62,303.17 375.60,303.20" fill="none" stroke="#a9deb7" stroke-width="0.95" stroke-dasharray="1.4 0.45"/>
<polyline points="176.40,304.04 181.38,304.07 186.36,304.09 191.34,304.12 196.32,304.15 201.30,304.17 206.28,304.20 211.26,304.23 216.24,304.25 221.22,304.28 226.20,304.31 231.18,304.34 236.16,304.37 241.14,304.39 246.12,304.42 251.10,304.45 256.08,304.48 261.06,304.51 266.04,304.54 271.02,304.57 276.00,304.60 280.98,304.63 285.96,304.66 290.94,304.69 295.92,304.72 300.90,304.75 305.88,304.78 310.86,304.82 315.84,304.85 320.82,304.88 325.80,304.91 330.78,304.94 335.76,304.98 340.74,305.01 345.72,305.04 350.70,305.08 355.68,305.11 360.66,305.14 365.64,305.18 370.62,305.21 375.60,305.25" fill="none" stroke="#a9deb7" stroke-width="0.95" stroke-dasharray="1.4 0.45"/>
<polygon points="176.40,307.08 181.38,307.08 186.36,307.08 191.34,307.07 196.32,307.07 201.30,307.07 206.28,307.06 211.26,307.06 216.24,307.06 221.22,307.05 226.20,307.05 231.18,307.04 236.16,307.04 241.14,307.04 246.12,307.03 251.10,307.03 256.08,307.02 261.06,307.02 266.04,307.02 271.02,307.01 276.00,307.01 280.98,307.00 285.96,307.00 290.94,306.99 295.92,306.99 300.90,306.98 305.88,306.98 310.86,306.97 315.84,306.97 320.82,306.96 325.80,306.96 330.78,306.95 335.76,306.95 340.74,306.94 345.72,306.93 350.70,306.93 355.68,306.92 360.66,306.92 365.64,306.91 370.62,306.91 375.60,306.90 375.60,307.55 370.62,307.55 365.64,307.56 360.66,307.56 355.68,307.56 350.70,307.56 345.72,307.57 340.74,307.57 335.76,307.57 330.78,307.57 325.80,307.58 320.82,307.58 315.84,307.58 310.86,307.59 305.88,307.59 300.90,307.59 295.92,307.60 290.94,307.60 285.96,307.60 280.98,307.61 276.00,307.61 271.02,307.61 266.04,307.62 261.06,307.62 256.08,307.62 251.10,307.63 246.12,307.63 241.14,307.64 236.16,307.64 231.18,307.65 226.20,307.65 221.22,307.65 216.24,307.66 211.26,307.66 206.28,307.67 201.30,307.67 196.32,307.68 191.34,307.68 186.36,307.69 181.38,307.69 176.40,307.70" fill="#a6a6a6" fill-opacity="0.6" stroke="none"/>
<line x1="164.45" y1="307.40" x2="406.50" y2="307.20" stroke="#a6a6a6" stroke-width="1.05" />
<polyline points="176.40,307.08 181.38,307.08 186.36,307.08 191.34,307.07 196.32,307.07 201.30,307.07 206.28,307.06 211.26,307.06 216.24,307.06 221.22,307.05 226.20,307.05 231.18,307.04 236.16,307.04 241.14,307.04 246.12,307.03 251.10,307.03 256.08,307.02 261.06,307.02 266.04,307.02 271.02,307.01 276.00,307.01 280.98,307.00 285.96,307.00 290.94,306.99 295.92,306.99 300.90,306.98 305.88,306.98 310.86,306.97 315.84,306.97 320.82,306.96 325.80,306.96 330.78,306.95 335.76,306.95 340.74,306.94 345.72,306.93 350.70,306.93 355.68,306.92 360.66,306.92 365.64,306.91 370.62,306.91 375.60,306.90" fill="none" stroke="#a6a6a6" stroke-width="0.95" stroke-dasharray="1.4 0.45"/>
<polyline points="176.40,307.70 181.38,307.69 186.36,307.69 191.34,307.68 196.32,307.68 201.30,307.67 206.28,307.67 211.26,307.66 216.24,307.66 221.22,307.65 226.20,307.65 231.18,307.65 236.16,307.64 241.14,307.64 246.12,307.63 251.10,307.63 256.08,307.62 261.06,307.62 266.04,307.62 271.02,307.61 276.00,307.61 280.98,307.61 285.96,307.60 290.94,307.60 295.92,307.60 300.90,307.59 305.88,307.59 310.86,307.59 315.84,307.58 320.82,307.58 325.80,307.58 330.78,307.57 335.76,307.57 340.74,307.57 345.72,307.57 350.70,307.56 355.68,307.56 360.66,307.56 365.64,307.56 370.62,307.55 375.60,307.55" fill="none" stroke="#a6a6a6" stroke-width="0.95" stroke-dasharray="1.4 0.45"/>
<rect x="164.45" y="173.15" width="242.05" height="137.45" fill="none" stroke="#7c7c7c" stroke-width="1.15"/>
<line x1="161.75" y1="310.60" x2="164.05" y2="310.60" stroke="#4a4a4a" stroke-width="0.9" />
<text transform="translate(161.45,314.30) scale(0.86,1)" font-size="8.0" text-anchor="end" font-weight="normal" fill="#2e2e2e" >0</text>
<line x1="161.75" y1="295.14" x2="164.05" y2="295.14" stroke="#4a4a4a" stroke-width="0.9" />
<text transform="translate(161.45,298.84) scale(0.86,1)" font-size="8.0" text-anchor="end" font-weight="normal" fill="#2e2e2e" >5</text>
<line x1="161.75" y1="279.68" x2="164.05" y2="279.68" stroke="#4a4a4a" stroke-width="0.9" />
<text transform="translate(161.45,283.38) scale(0.86,1)" font-size="8.0" text-anchor="end" font-weight="normal" fill="#2e2e2e" >10</text>
<line x1="161.75" y1="264.21" x2="164.05" y2="264.21" stroke="#4a4a4a" stroke-width="0.9" />
<text transform="translate(161.45,267.91) scale(0.86,1)" font-size="8.0" text-anchor="end" font-weight="normal" fill="#2e2e2e" >15</text>
<line x1="161.75" y1="248.75" x2="164.05" y2="248.75" stroke="#4a4a4a" stroke-width="0.9" />
<text transform="translate(161.45,252.45) scale(0.86,1)" font-size="8.0" text-anchor="end" font-weight="normal" fill="#2e2e2e" >20</text>
<line x1="161.75" y1="233.29" x2="164.05" y2="233.29" stroke="#4a4a4a" stroke-width="0.9" />
<text transform="translate(161.45,236.99) scale(0.86,1)" font-size="8.0" text-anchor="end" font-weight="normal" fill="#2e2e2e" >25</text>
<line x1="161.75" y1="217.83" x2="164.05" y2="217.83" stroke="#4a4a4a" stroke-width="0.9" />
<text transform="translate(161.45,221.53) scale(0.86,1)" font-size="8.0" text-anchor="end" font-weight="normal" fill="#2e2e2e" >30</text>
<line x1="161.75" y1="202.36" x2="164.05" y2="202.36" stroke="#4a4a4a" stroke-width="0.9" />
<text transform="translate(161.45,206.06) scale(0.86,1)" font-size="8.0" text-anchor="end" font-weight="normal" fill="#2e2e2e" >35</text>
<line x1="161.75" y1="186.90" x2="164.05" y2="186.90" stroke="#4a4a4a" stroke-width="0.9" />
<text transform="translate(161.45,190.60) scale(0.86,1)" font-size="8.0" text-anchor="end" font-weight="normal" fill="#2e2e2e" >40</text>
<line x1="176.40" y1="311.00" x2="176.40" y2="314.30" stroke="#4a4a4a" stroke-width="0.9" />
<text transform="translate(176.40,321.10) scale(0.86,1)" font-size="8.0" text-anchor="middle" font-weight="normal" fill="#2e2e2e" >0</text>
<line x1="212.80" y1="311.00" x2="212.80" y2="314.30" stroke="#4a4a4a" stroke-width="0.9" />
<text transform="translate(212.80,321.10) scale(0.86,1)" font-size="8.0" text-anchor="middle" font-weight="normal" fill="#2e2e2e" >200</text>
<line x1="249.20" y1="311.00" x2="249.20" y2="314.30" stroke="#4a4a4a" stroke-width="0.9" />
<text transform="translate(249.20,321.10) scale(0.86,1)" font-size="8.0" text-anchor="middle" font-weight="normal" fill="#2e2e2e" >400</text>
<line x1="285.60" y1="311.00" x2="285.60" y2="314.30" stroke="#4a4a4a" stroke-width="0.9" />
<text transform="translate(285.60,321.10) scale(0.86,1)" font-size="8.0" text-anchor="middle" font-weight="normal" fill="#2e2e2e" >600</text>
<line x1="322.00" y1="311.00" x2="322.00" y2="314.30" stroke="#4a4a4a" stroke-width="0.9" />
<text transform="translate(322.00,321.10) scale(0.86,1)" font-size="8.0" text-anchor="middle" font-weight="normal" fill="#2e2e2e" >800</text>
<line x1="358.40" y1="311.00" x2="358.40" y2="314.30" stroke="#4a4a4a" stroke-width="0.9" />
<text transform="translate(358.40,321.10) scale(0.86,1)" font-size="8.0" text-anchor="middle" font-weight="normal" fill="#2e2e2e" >1000</text>
<line x1="394.80" y1="311.00" x2="394.80" y2="314.30" stroke="#4a4a4a" stroke-width="0.9" />
<text transform="translate(394.80,321.10) scale(0.86,1)" font-size="8.0" text-anchor="middle" font-weight="normal" fill="#2e2e2e" >1200</text>
<text transform="translate(285.28,332.80)" font-size="6.65" text-anchor="middle" font-weight="bold" fill="#1c1c1c" stroke="#1c1c1c" stroke-width="0.15">Number of insertion-removal cycles</text>
<text transform="translate(149.25,241.57) rotate(-90) scale(0.975,1)" font-size="7.0" text-anchor="middle" font-weight="bold" fill="#1c1c1c" stroke="#1c1c1c" stroke-width="0.15">Retentive force (N)</text>
<text transform="translate(269.05,192.90)" font-size="14.0" text-anchor="start" font-weight="normal" fill="#000" stroke="#000" stroke-width="0.25">20º</text>
<line x1="313.40" y1="180.70" x2="323.00" y2="184.90" stroke="#fbb4bd" stroke-width="1.0" />
<text transform="translate(325.00,185.90) scale(0.88,1)" font-size="7.0" text-anchor="start" font-weight="normal" fill="#1e1e1e" >A- Locator</text>
<line x1="313.40" y1="188.23" x2="323.00" y2="192.43" stroke="#a6a6a6" stroke-width="1.0" />
<text transform="translate(325.00,193.43) scale(0.88,1)" font-size="7.0" text-anchor="start" font-weight="normal" fill="#1e1e1e" >B- Novaloc, white PEEK</text>
<line x1="313.40" y1="195.76" x2="323.00" y2="199.96" stroke="#f8ef9e" stroke-width="1.0" />
<text transform="translate(325.00,200.96) scale(0.88,1)" font-size="7.0" text-anchor="start" font-weight="normal" fill="#1e1e1e" >C-Novaloc, yellow PEEK</text>
<line x1="313.40" y1="203.29" x2="323.00" y2="207.49" stroke="#a9deb7" stroke-width="1.0" />
<text transform="translate(325.00,208.49) scale(0.88,1)" font-size="7.0" text-anchor="start" font-weight="normal" fill="#1e1e1e" >D- Novaloc, green PEEK</text>
</g>
</svg>
</body></html>
